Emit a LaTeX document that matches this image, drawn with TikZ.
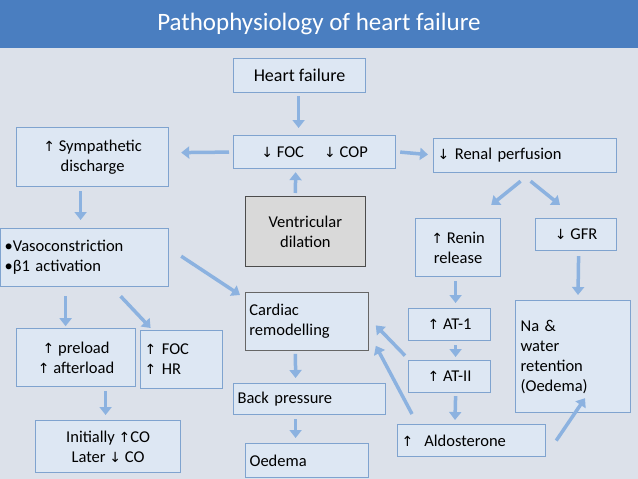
\documentclass[tikz,border=0pt]{standalone}
\usepackage{fontspec}
\setmainfont{Carlito}
\newfontfamily\symf{DejaVu Sans}
\usetikzlibrary{arrows.meta}
\newcommand{\UA}{{\symf\fontsize{14}{16}\selectfont ↑}}
\newcommand{\DA}{{\symf\fontsize{14}{16}\selectfont ↓}}
\definecolor{bg}{HTML}{DCE1EA}
\definecolor{bar}{HTML}{4A7EC0}
\definecolor{bfill}{HTML}{DDE7F3}
\definecolor{bline}{HTML}{7FA3CF}
\definecolor{acol}{HTML}{8CB2E0}
\tikzset{
 box/.style={draw=bline,fill=bfill,line width=1.2pt,inner sep=3pt,font=\fontsize{16.5}{20}\selectfont,align=center,anchor=north west},
 arr/.style={draw=acol,line width=3.5pt,-{Triangle[width=12pt,length=8pt]}}
}
\newcommand{\at}[3]{([shift={(#1,#2)}]#3)}
\begin{document}
\begin{tikzpicture}[x=1pt,y=-1pt]
\fill[bg] (0,0) rectangle (638,479);
\useasboundingbox (0,0) rectangle (638,479);
\fill[bar] (0,0) rectangle (638,48);
\node[text=white,font=\fontsize{25}{29}\selectfont] (title) at (319,24) {Pathophysiology of heart failure};
\node[box,minimum width=132,minimum height=34,font=\fontsize{18}{21}\selectfont] (hf) at (233,58) {Heart failure};
\node[box,minimum width=162,minimum height=33] (foc) at (233,135) {\DA{} FOC \quad\DA{} COP};
\node[box,minimum width=152,minimum height=59] (sym) at (16,127) {\UA{} Sympathetic\\discharge};
\node[box,minimum width=183,minimum height=34,align=left,text width=175] (ren) at (433,138) {\DA{} Renal perfusion};
\node[box,fill=gray!30,draw=black!70,line width=0.8pt,minimum width=120,minimum height=70] (vd) at (245,196) {Ventricular\\dilation};
\node[box,draw=black!60,line width=0.8pt,minimum width=123,minimum height=58,align=left,text width=115] (cr) at (245,292) {Cardiac\\remodelling};
\node[box,minimum width=168,minimum height=58,align=left,text width=160] (vaso) at (0,228) {•Vasoconstriction\\•β1 activation};
\node[box,minimum width=85,minimum height=58] (renin) at (415,218) {\UA{} Renin\\release};
\node[box,minimum width=81,minimum height=32] (gfr) at (535,218) {\DA{} GFR};
\node[box,minimum width=82,minimum height=32] (at1) at (408,308) {\UA{} AT-1};
\node[box,minimum width=82,minimum height=32] (at2) at (408,360) {\UA{} AT-II};
\node[box,minimum width=115,minimum height=112,align=left,text width=105,anchor=north west] (na) at (515,300) {Na \&\\water\\retention\\(Oedema)};
\node[box,minimum width=119,minimum height=58] (pre) at (16,328) {\UA{} preload\\\UA{} afterload};
\node[box,minimum width=82,minimum height=58,align=left,text width=74] (hr) at (140,330) {\UA{} FOC\\\UA{} HR};
\node[box,minimum width=152,minimum height=31,align=left,text width=144] (bp) at (233,383) {Back pressure};
\node[box,minimum width=145,minimum height=52] (ini) at (35,420) {Initially \UA{}CO\\Later \DA{} CO};
\node[box,minimum width=123,minimum height=34,align=left,text width=115] (oed) at (245,443) {Oedema};
\node[box,minimum width=148,minimum height=32,align=left,text width=140] (ald) at (397,424) {\UA{}\ \ Aldosterone};
% arrows
\draw[arr] \at{-1}{3}{hf.south} -- \at{-16}{-7}{foc.north};
\draw[arr] \at{-4}{0}{foc.west} -- \at{12}{-4.5}{sym.east};
\draw[arr] \at{4}{0}{foc.east} -- \at{-5}{-1}{ren.west};
\draw[arr] \at{-10}{-3}{vd.north} -- \at{-19}{3}{foc.south};
\draw[arr] \at{-12}{4}{sym.south} -- \at{-4}{-8}{vaso.north};
\draw[arr] \at{12}{-31}{vaso.south east} -- \at{-5}{3}{cr.north west};
\draw[arr] \at{-19}{9}{vaso.south} -- \at{-19}{39}{vaso.south};
\draw[arr] \at{36}{9}{vaso.south} -- \at{-31}{-2}{hr.north};
\draw[arr] \at{29.5}{4}{pre.south} -- \at{-2.5}{-5}{ini.north};
\draw[arr] \at{-4.5}{8}{ren.south} -- \at{-10}{-13}{renin.north east};
\draw[arr] \at{5.5}{8}{ren.south} -- \at{25}{-13}{gfr.north west};
\draw[arr] \at{-2.5}{4}{renin.south} -- \at{6}{-5}{at1.north};
\draw[arr] \at{2.5}{5}{gfr.south} -- \at{63}{-5}{na.north west};
\draw[arr] \at{6}{4}{at1.south} -- \at{6}{-3}{at2.north};
\draw[arr] \at{6}{3}{at2.south} -- \at{58}{-4}{ald.north west};
\draw[arr] \at{-3}{31}{at1.west} -- \at{7}{4}{cr.east};
\draw[arr] \at{15}{-10}{ald.north west} -- \at{7}{-5}{cr.south east};
\draw[arr] \at{10}{0}{ald.east} -- \at{70}{-15}{na.south west};
\draw[arr] \at{-11.5}{3}{cr.south} -- \at{-14}{-5}{bp.north};
\draw[arr] \at{-14}{4}{bp.south} -- \at{-11.5}{-5}{oed.north};
\end{tikzpicture}
\end{document}
